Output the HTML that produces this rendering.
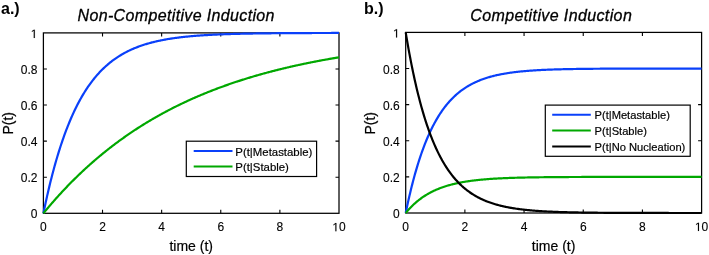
<!DOCTYPE html>
<html><head><meta charset="utf-8"><style>
html,body{margin:0;padding:0;background:#fff;}
body{width:709px;height:255px;overflow:hidden;}
svg{display:block;will-change:transform;}
text{font-family:"Liberation Sans",sans-serif;fill:#000;stroke:#000;stroke-width:0.3px;}
.tk{font-size:12px;stroke-width:0.12px;}
.lab{font-size:14px;stroke-width:0.2px;}
.lg{font-size:11.2px;stroke-width:0.18px;}
.ti{font-size:16px;font-style:italic;}
.pl{font-size:16px;font-weight:bold;stroke-width:0;}
</style></head><body>
<svg width="709" height="255" viewBox="0 0 709 255">
<rect x="43.4" y="32.9" width="295.60" height="180.40" fill="none" stroke="#000" stroke-width="1.25"/>
<path d="M102.52,213.3v-3.5M102.52,32.9v3.5M43.4,177.22h3.5M339.0,177.22h-3.5M161.64,213.3v-3.5M161.64,32.9v3.5M43.4,141.14h3.5M339.0,141.14h-3.5M220.76,213.3v-3.5M220.76,32.9v3.5M43.4,105.06h3.5M339.0,105.06h-3.5M279.88,213.3v-3.5M279.88,32.9v3.5M43.4,68.98h3.5M339.0,68.98h-3.5" stroke="#000" stroke-width="1.1" fill="none"/>
<text x="43.40" y="231.30" class="tk" text-anchor="middle">0</text>
<text x="102.52" y="231.30" class="tk" text-anchor="middle">2</text>
<text x="161.64" y="231.30" class="tk" text-anchor="middle">4</text>
<text x="220.76" y="231.30" class="tk" text-anchor="middle">6</text>
<text x="279.88" y="231.30" class="tk" text-anchor="middle">8</text>
<path transform="translate(332.33,231.30) scale(0.005859,-0.005859)" d="M515,0V1237L197,1010V1180L530,1409H696V0Z" fill="#000" stroke="#000" stroke-width="20.5"/>
<text x="339.00" y="231.30" class="tk">0</text>
<text x="37.40" y="218.30" class="tk" text-anchor="end">0</text>
<text x="37.40" y="182.22" class="tk" text-anchor="end">0.2</text>
<text x="37.40" y="146.14" class="tk" text-anchor="end">0.4</text>
<text x="37.40" y="110.06" class="tk" text-anchor="end">0.6</text>
<text x="37.40" y="73.98" class="tk" text-anchor="end">0.8</text>
<path transform="translate(30.73,37.90) scale(0.005859,-0.005859)" d="M515,0V1237L197,1010V1180L530,1409H696V0Z" fill="#000" stroke="#000" stroke-width="20.5"/>
<text x="191.20" y="250.5" class="lab" text-anchor="middle">time (t)</text>
<text transform="translate(13.00,123.3) rotate(-90)" class="lab" text-anchor="middle">P(t)</text>
<rect x="405.7" y="32.4" width="295.90" height="180.60" fill="none" stroke="#000" stroke-width="1.25"/>
<path d="M464.88,213.0v-3.5M464.88,32.4v3.5M405.7,176.88h3.5M701.6,176.88h-3.5M524.06,213.0v-3.5M524.06,32.4v3.5M405.7,140.76h3.5M701.6,140.76h-3.5M583.24,213.0v-3.5M583.24,32.4v3.5M405.7,104.64h3.5M701.6,104.64h-3.5M642.42,213.0v-3.5M642.42,32.4v3.5M405.7,68.52h3.5M701.6,68.52h-3.5" stroke="#000" stroke-width="1.1" fill="none"/>
<text x="405.70" y="231.00" class="tk" text-anchor="middle">0</text>
<text x="464.88" y="231.00" class="tk" text-anchor="middle">2</text>
<text x="524.06" y="231.00" class="tk" text-anchor="middle">4</text>
<text x="583.24" y="231.00" class="tk" text-anchor="middle">6</text>
<text x="642.42" y="231.00" class="tk" text-anchor="middle">8</text>
<path transform="translate(694.93,231.00) scale(0.005859,-0.005859)" d="M515,0V1237L197,1010V1180L530,1409H696V0Z" fill="#000" stroke="#000" stroke-width="20.5"/>
<text x="701.60" y="231.00" class="tk">0</text>
<text x="399.70" y="218.00" class="tk" text-anchor="end">0</text>
<text x="399.70" y="181.88" class="tk" text-anchor="end">0.2</text>
<text x="399.70" y="145.76" class="tk" text-anchor="end">0.4</text>
<text x="399.70" y="109.64" class="tk" text-anchor="end">0.6</text>
<text x="399.70" y="73.52" class="tk" text-anchor="end">0.8</text>
<path transform="translate(393.03,37.40) scale(0.005859,-0.005859)" d="M515,0V1237L197,1010V1180L530,1409H696V0Z" fill="#000" stroke="#000" stroke-width="20.5"/>
<text x="553.65" y="250.5" class="lab" text-anchor="middle">time (t)</text>
<text transform="translate(375.30,123.3) rotate(-90)" class="lab" text-anchor="middle">P(t)</text>
<path d="M43.40,213.30 L44.14,209.73 L44.88,206.23 L45.62,202.79 L46.36,199.43 L47.09,196.13 L47.83,192.90 L48.57,189.73 L49.31,186.63 L50.05,183.58 L50.79,180.60 L51.53,177.67 L52.27,174.81 L53.01,172.00 L53.75,169.24 L54.48,166.54 L55.22,163.90 L55.96,161.30 L56.70,158.76 L57.44,156.27 L58.18,153.83 L58.92,151.43 L59.66,149.08 L60.40,146.78 L61.14,144.53 L61.88,142.32 L62.61,140.15 L63.35,138.03 L64.09,135.95 L64.83,133.91 L65.57,131.91 L66.31,129.95 L67.05,128.02 L67.79,126.14 L68.53,124.29 L69.27,122.48 L70.00,120.71 L70.74,118.97 L71.48,117.27 L72.22,115.60 L72.96,113.96 L73.70,112.35 L74.44,110.78 L75.18,109.24 L75.92,107.73 L76.66,106.25 L77.39,104.79 L78.13,103.37 L78.87,101.97 L79.61,100.61 L80.35,99.27 L81.09,97.95 L81.83,96.66 L82.57,95.40 L83.31,94.16 L84.05,92.95 L84.78,91.76 L85.52,90.60 L86.26,89.45 L87.00,88.33 L87.74,87.24 L88.48,86.16 L89.22,85.10 L89.96,84.07 L90.70,83.06 L91.44,82.06 L92.17,81.09 L92.91,80.14 L93.65,79.20 L94.39,78.28 L95.13,77.39 L95.87,76.51 L96.61,75.64 L97.35,74.80 L98.09,73.97 L98.82,73.15 L99.56,72.36 L100.30,71.57 L101.04,70.81 L101.78,70.06 L102.52,69.32 L103.26,68.60 L104.00,67.89 L104.74,67.20 L105.48,66.52 L106.22,65.86 L106.95,65.20 L107.69,64.56 L108.43,63.94 L109.17,63.32 L109.91,62.72 L110.65,62.13 L111.39,61.55 L112.13,60.98 L112.87,60.43 L113.61,59.88 L114.34,59.35 L115.08,58.82 L115.82,58.31 L116.56,57.81 L117.30,57.31 L118.04,56.83 L118.78,56.36 L119.52,55.89 L120.26,55.44 L121.00,54.99 L121.73,54.55 L122.47,54.12 L123.21,53.70 L123.95,53.29 L124.69,52.89 L125.43,52.49 L126.17,52.11 L126.91,51.72 L127.65,51.35 L128.38,50.99 L129.12,50.63 L129.86,50.28 L130.60,49.93 L131.34,49.60 L132.08,49.27 L132.82,48.94 L133.56,48.62 L134.30,48.31 L135.04,48.01 L135.78,47.71 L136.51,47.41 L137.25,47.13 L137.99,46.85 L138.73,46.57 L139.47,46.30 L140.21,46.03 L140.95,45.77 L141.69,45.52 L142.43,45.27 L143.17,45.02 L143.90,44.78 L144.64,44.55 L145.38,44.32 L146.12,44.09 L146.86,43.87 L147.60,43.65 L148.34,43.44 L149.08,43.23 L149.82,43.03 L150.56,42.83 L151.29,42.63 L152.03,42.44 L152.77,42.25 L153.51,42.06 L154.25,41.88 L154.99,41.70 L155.73,41.53 L156.47,41.36 L157.21,41.19 L157.94,41.03 L158.68,40.87 L159.42,40.71 L160.16,40.55 L160.90,40.40 L161.64,40.25 L162.38,40.11 L163.12,39.97 L163.86,39.83 L164.60,39.69 L165.34,39.55 L166.07,39.42 L166.81,39.29 L167.55,39.17 L168.29,39.04 L169.03,38.92 L169.77,38.80 L170.51,38.68 L171.25,38.57 L171.99,38.46 L172.72,38.35 L173.46,38.24 L174.20,38.13 L174.94,38.03 L175.68,37.93 L176.42,37.83 L177.16,37.73 L177.90,37.64 L178.64,37.54 L179.38,37.45 L180.12,37.36 L180.85,37.27 L181.59,37.19 L182.33,37.10 L183.07,37.02 L183.81,36.94 L184.55,36.86 L185.29,36.78 L186.03,36.70 L186.77,36.63 L187.51,36.55 L188.24,36.48 L188.98,36.41 L189.72,36.34 L190.46,36.27 L191.20,36.20 L191.94,36.14 L192.68,36.07 L193.42,36.01 L194.16,35.95 L194.90,35.89 L195.63,35.83 L196.37,35.77 L197.11,35.72 L197.85,35.66 L198.59,35.61 L199.33,35.55 L200.07,35.50 L200.81,35.45 L201.55,35.40 L202.29,35.35 L203.02,35.30 L203.76,35.25 L204.50,35.21 L205.24,35.16 L205.98,35.11 L206.72,35.07 L207.46,35.03 L208.20,34.99 L208.94,34.94 L209.68,34.90 L210.41,34.86 L211.15,34.83 L211.89,34.79 L212.63,34.75 L213.37,34.71 L214.11,34.68 L214.85,34.64 L215.59,34.61 L216.33,34.57 L217.07,34.54 L217.80,34.51 L218.54,34.48 L219.28,34.45 L220.02,34.41 L220.76,34.38 L221.50,34.36 L222.24,34.33 L222.98,34.30 L223.72,34.27 L224.46,34.24 L225.19,34.22 L225.93,34.19 L226.67,34.17 L227.41,34.14 L228.15,34.12 L228.89,34.09 L229.63,34.07 L230.37,34.04 L231.11,34.02 L231.84,34.00 L232.58,33.98 L233.32,33.96 L234.06,33.94 L234.80,33.92 L235.54,33.90 L236.28,33.88 L237.02,33.86 L237.76,33.84 L238.50,33.82 L239.24,33.80 L239.97,33.78 L240.71,33.77 L241.45,33.75 L242.19,33.73 L242.93,33.71 L243.67,33.70 L244.41,33.68 L245.15,33.67 L245.89,33.65 L246.63,33.64 L247.36,33.62 L248.10,33.61 L248.84,33.59 L249.58,33.58 L250.32,33.57 L251.06,33.55 L251.80,33.54 L252.54,33.53 L253.28,33.52 L254.02,33.50 L254.75,33.49 L255.49,33.48 L256.23,33.47 L256.97,33.46 L257.71,33.45 L258.45,33.44 L259.19,33.42 L259.93,33.41 L260.67,33.40 L261.41,33.39 L262.14,33.38 L262.88,33.37 L263.62,33.37 L264.36,33.36 L265.10,33.35 L265.84,33.34 L266.58,33.33 L267.32,33.32 L268.06,33.31 L268.80,33.30 L269.53,33.30 L270.27,33.29 L271.01,33.28 L271.75,33.27 L272.49,33.27 L273.23,33.26 L273.97,33.25 L274.71,33.24 L275.45,33.24 L276.19,33.23 L276.92,33.22 L277.66,33.22 L278.40,33.21 L279.14,33.21 L279.88,33.20 L280.62,33.19 L281.36,33.19 L282.10,33.18 L282.84,33.18 L283.57,33.17 L284.31,33.17 L285.05,33.16 L285.79,33.16 L286.53,33.15 L287.27,33.15 L288.01,33.14 L288.75,33.14 L289.49,33.13 L290.23,33.13 L290.96,33.12 L291.70,33.12 L292.44,33.11 L293.18,33.11 L293.92,33.10 L294.66,33.10 L295.40,33.10 L296.14,33.09 L296.88,33.09 L297.62,33.09 L298.36,33.08 L299.09,33.08 L299.83,33.07 L300.57,33.07 L301.31,33.07 L302.05,33.06 L302.79,33.06 L303.53,33.06 L304.27,33.05 L305.01,33.05 L305.75,33.05 L306.48,33.05 L307.22,33.04 L307.96,33.04 L308.70,33.04 L309.44,33.03 L310.18,33.03 L310.92,33.03 L311.66,33.03 L312.40,33.02 L313.13,33.02 L313.87,33.02 L314.61,33.02 L315.35,33.01 L316.09,33.01 L316.83,33.01 L317.57,33.01 L318.31,33.01 L319.05,33.00 L319.79,33.00 L320.52,33.00 L321.26,33.00 L322.00,33.00 L322.74,32.99 L323.48,32.99 L324.22,32.99 L324.96,32.99 L325.70,32.99 L326.44,32.99 L327.18,32.98 L327.91,32.98 L328.65,32.98 L329.39,32.98 L330.13,32.98 L330.87,32.98 L331.61,32.97 L332.35,32.97 L333.09,32.97 L333.83,32.97 L334.57,32.97 L335.31,32.97 L336.04,32.97 L336.78,32.96 L337.52,32.96 L338.26,32.96 L339.00,32.96" stroke="#0a40fa" stroke-width="2.2" fill="none"/>
<path d="M43.40,213.30 L44.14,212.40 L44.88,211.50 L45.62,210.61 L46.36,209.73 L47.09,208.85 L47.83,207.97 L48.57,207.10 L49.31,206.23 L50.05,205.36 L50.79,204.50 L51.53,203.65 L52.27,202.79 L53.01,201.95 L53.75,201.10 L54.48,200.26 L55.22,199.43 L55.96,198.60 L56.70,197.77 L57.44,196.95 L58.18,196.13 L58.92,195.32 L59.66,194.51 L60.40,193.70 L61.14,192.90 L61.88,192.10 L62.61,191.31 L63.35,190.52 L64.09,189.73 L64.83,188.95 L65.57,188.17 L66.31,187.40 L67.05,186.63 L67.79,185.86 L68.53,185.10 L69.27,184.34 L70.00,183.58 L70.74,182.83 L71.48,182.08 L72.22,181.34 L72.96,180.60 L73.70,179.86 L74.44,179.13 L75.18,178.40 L75.92,177.67 L76.66,176.95 L77.39,176.23 L78.13,175.52 L78.87,174.81 L79.61,174.10 L80.35,173.40 L81.09,172.69 L81.83,172.00 L82.57,171.30 L83.31,170.61 L84.05,169.93 L84.78,169.24 L85.52,168.56 L86.26,167.89 L87.00,167.21 L87.74,166.54 L88.48,165.88 L89.22,165.21 L89.96,164.55 L90.70,163.90 L91.44,163.24 L92.17,162.59 L92.91,161.95 L93.65,161.30 L94.39,160.66 L95.13,160.03 L95.87,159.39 L96.61,158.76 L97.35,158.13 L98.09,157.51 L98.82,156.89 L99.56,156.27 L100.30,155.65 L101.04,155.04 L101.78,154.43 L102.52,153.83 L103.26,153.22 L104.00,152.62 L104.74,152.03 L105.48,151.43 L106.22,150.84 L106.95,150.25 L107.69,149.67 L108.43,149.08 L109.17,148.50 L109.91,147.93 L110.65,147.35 L111.39,146.78 L112.13,146.22 L112.87,145.65 L113.61,145.09 L114.34,144.53 L115.08,143.97 L115.82,143.42 L116.56,142.87 L117.30,142.32 L118.04,141.77 L118.78,141.23 L119.52,140.69 L120.26,140.15 L121.00,139.62 L121.73,139.08 L122.47,138.55 L123.21,138.03 L123.95,137.50 L124.69,136.98 L125.43,136.46 L126.17,135.95 L126.91,135.43 L127.65,134.92 L128.38,134.41 L129.12,133.91 L129.86,133.40 L130.60,132.90 L131.34,132.40 L132.08,131.91 L132.82,131.41 L133.56,130.92 L134.30,130.43 L135.04,129.95 L135.78,129.46 L136.51,128.98 L137.25,128.50 L137.99,128.02 L138.73,127.55 L139.47,127.08 L140.21,126.61 L140.95,126.14 L141.69,125.67 L142.43,125.21 L143.17,124.75 L143.90,124.29 L144.64,123.84 L145.38,123.38 L146.12,122.93 L146.86,122.48 L147.60,122.04 L148.34,121.59 L149.08,121.15 L149.82,120.71 L150.56,120.27 L151.29,119.84 L152.03,119.40 L152.77,118.97 L153.51,118.54 L154.25,118.11 L154.99,117.69 L155.73,117.27 L156.47,116.85 L157.21,116.43 L157.94,116.01 L158.68,115.60 L159.42,115.18 L160.16,114.77 L160.90,114.37 L161.64,113.96 L162.38,113.55 L163.12,113.15 L163.86,112.75 L164.60,112.35 L165.34,111.96 L166.07,111.56 L166.81,111.17 L167.55,110.78 L168.29,110.39 L169.03,110.01 L169.77,109.62 L170.51,109.24 L171.25,108.86 L171.99,108.48 L172.72,108.10 L173.46,107.73 L174.20,107.35 L174.94,106.98 L175.68,106.61 L176.42,106.25 L177.16,105.88 L177.90,105.52 L178.64,105.15 L179.38,104.79 L180.12,104.43 L180.85,104.08 L181.59,103.72 L182.33,103.37 L183.07,103.02 L183.81,102.67 L184.55,102.32 L185.29,101.97 L186.03,101.63 L186.77,101.29 L187.51,100.95 L188.24,100.61 L188.98,100.27 L189.72,99.93 L190.46,99.60 L191.20,99.27 L191.94,98.93 L192.68,98.61 L193.42,98.28 L194.16,97.95 L194.90,97.63 L195.63,97.30 L196.37,96.98 L197.11,96.66 L197.85,96.35 L198.59,96.03 L199.33,95.71 L200.07,95.40 L200.81,95.09 L201.55,94.78 L202.29,94.47 L203.02,94.16 L203.76,93.86 L204.50,93.55 L205.24,93.25 L205.98,92.95 L206.72,92.65 L207.46,92.35 L208.20,92.06 L208.94,91.76 L209.68,91.47 L210.41,91.18 L211.15,90.88 L211.89,90.60 L212.63,90.31 L213.37,90.02 L214.11,89.74 L214.85,89.45 L215.59,89.17 L216.33,88.89 L217.07,88.61 L217.80,88.33 L218.54,88.06 L219.28,87.78 L220.02,87.51 L220.76,87.24 L221.50,86.96 L222.24,86.69 L222.98,86.43 L223.72,86.16 L224.46,85.89 L225.19,85.63 L225.93,85.37 L226.67,85.10 L227.41,84.84 L228.15,84.59 L228.89,84.33 L229.63,84.07 L230.37,83.82 L231.11,83.56 L231.84,83.31 L232.58,83.06 L233.32,82.81 L234.06,82.56 L234.80,82.31 L235.54,82.06 L236.28,81.82 L237.02,81.58 L237.76,81.33 L238.50,81.09 L239.24,80.85 L239.97,80.61 L240.71,80.37 L241.45,80.14 L242.19,79.90 L242.93,79.67 L243.67,79.43 L244.41,79.20 L245.15,78.97 L245.89,78.74 L246.63,78.51 L247.36,78.28 L248.10,78.06 L248.84,77.83 L249.58,77.61 L250.32,77.39 L251.06,77.16 L251.80,76.94 L252.54,76.72 L253.28,76.51 L254.02,76.29 L254.75,76.07 L255.49,75.86 L256.23,75.64 L256.97,75.43 L257.71,75.22 L258.45,75.01 L259.19,74.80 L259.93,74.59 L260.67,74.38 L261.41,74.17 L262.14,73.97 L262.88,73.76 L263.62,73.56 L264.36,73.35 L265.10,73.15 L265.84,72.95 L266.58,72.75 L267.32,72.55 L268.06,72.36 L268.80,72.16 L269.53,71.96 L270.27,71.77 L271.01,71.57 L271.75,71.38 L272.49,71.19 L273.23,71.00 L273.97,70.81 L274.71,70.62 L275.45,70.43 L276.19,70.24 L276.92,70.06 L277.66,69.87 L278.40,69.69 L279.14,69.50 L279.88,69.32 L280.62,69.14 L281.36,68.96 L282.10,68.78 L282.84,68.60 L283.57,68.42 L284.31,68.25 L285.05,68.07 L285.79,67.89 L286.53,67.72 L287.27,67.55 L288.01,67.37 L288.75,67.20 L289.49,67.03 L290.23,66.86 L290.96,66.69 L291.70,66.52 L292.44,66.35 L293.18,66.19 L293.92,66.02 L294.66,65.86 L295.40,65.69 L296.14,65.53 L296.88,65.37 L297.62,65.20 L298.36,65.04 L299.09,64.88 L299.83,64.72 L300.57,64.56 L301.31,64.41 L302.05,64.25 L302.79,64.09 L303.53,63.94 L304.27,63.78 L305.01,63.63 L305.75,63.47 L306.48,63.32 L307.22,63.17 L307.96,63.02 L308.70,62.87 L309.44,62.72 L310.18,62.57 L310.92,62.42 L311.66,62.28 L312.40,62.13 L313.13,61.98 L313.87,61.84 L314.61,61.69 L315.35,61.55 L316.09,61.41 L316.83,61.27 L317.57,61.12 L318.31,60.98 L319.05,60.84 L319.79,60.70 L320.52,60.57 L321.26,60.43 L322.00,60.29 L322.74,60.15 L323.48,60.02 L324.22,59.88 L324.96,59.75 L325.70,59.61 L326.44,59.48 L327.18,59.35 L327.91,59.22 L328.65,59.08 L329.39,58.95 L330.13,58.82 L330.87,58.69 L331.61,58.57 L332.35,58.44 L333.09,58.31 L333.83,58.18 L334.57,58.06 L335.31,57.93 L336.04,57.81 L336.78,57.68 L337.52,57.56 L338.26,57.44 L339.00,57.31" stroke="#00a800" stroke-width="2.2" fill="none"/>
<path d="M405.70,213.00 L406.44,209.43 L407.18,205.95 L407.92,202.56 L408.66,199.25 L409.40,196.02 L410.14,192.88 L410.88,189.80 L411.62,186.81 L412.36,183.89 L413.10,181.04 L413.84,178.26 L414.58,175.55 L415.32,172.91 L416.06,170.33 L416.80,167.82 L417.54,165.37 L418.28,162.98 L419.02,160.64 L419.76,158.37 L420.50,156.15 L421.23,153.99 L421.97,151.88 L422.71,149.82 L423.45,147.81 L424.19,145.85 L424.93,143.95 L425.67,142.08 L426.41,140.27 L427.15,138.50 L427.89,136.77 L428.63,135.08 L429.37,133.44 L430.11,131.84 L430.85,130.27 L431.59,128.75 L432.33,127.26 L433.07,125.81 L433.81,124.40 L434.55,123.02 L435.29,121.67 L436.03,120.36 L436.77,119.08 L437.51,117.83 L438.25,116.61 L438.99,115.43 L439.73,114.27 L440.47,113.14 L441.21,112.04 L441.95,110.96 L442.69,109.91 L443.43,108.89 L444.17,107.90 L444.91,106.92 L445.65,105.98 L446.39,105.05 L447.13,104.15 L447.87,103.27 L448.61,102.41 L449.35,101.57 L450.08,100.76 L450.82,99.96 L451.56,99.19 L452.30,98.43 L453.04,97.69 L453.78,96.97 L454.52,96.27 L455.26,95.58 L456.00,94.91 L456.74,94.26 L457.48,93.63 L458.22,93.01 L458.96,92.40 L459.70,91.81 L460.44,91.24 L461.18,90.68 L461.92,90.13 L462.66,89.60 L463.40,89.08 L464.14,88.57 L464.88,88.07 L465.62,87.59 L466.36,87.12 L467.10,86.66 L467.84,86.21 L468.58,85.78 L469.32,85.35 L470.06,84.93 L470.80,84.53 L471.54,84.13 L472.28,83.75 L473.02,83.37 L473.76,83.01 L474.50,82.65 L475.24,82.30 L475.98,81.96 L476.72,81.63 L477.46,81.30 L478.20,80.99 L478.94,80.68 L479.68,80.38 L480.41,80.09 L481.15,79.80 L481.89,79.52 L482.63,79.25 L483.37,78.99 L484.11,78.73 L484.85,78.48 L485.59,78.23 L486.33,77.99 L487.07,77.76 L487.81,77.53 L488.55,77.31 L489.29,77.09 L490.03,76.88 L490.77,76.67 L491.51,76.47 L492.25,76.27 L492.99,76.08 L493.73,75.90 L494.47,75.71 L495.21,75.54 L495.95,75.36 L496.69,75.19 L497.43,75.03 L498.17,74.87 L498.91,74.71 L499.65,74.56 L500.39,74.41 L501.13,74.26 L501.87,74.12 L502.61,73.98 L503.35,73.85 L504.09,73.72 L504.83,73.59 L505.57,73.46 L506.31,73.34 L507.05,73.22 L507.79,73.11 L508.53,72.99 L509.26,72.88 L510.00,72.78 L510.74,72.67 L511.48,72.57 L512.22,72.47 L512.96,72.37 L513.70,72.28 L514.44,72.18 L515.18,72.09 L515.92,72.00 L516.66,71.92 L517.40,71.83 L518.14,71.75 L518.88,71.67 L519.62,71.59 L520.36,71.52 L521.10,71.44 L521.84,71.37 L522.58,71.30 L523.32,71.23 L524.06,71.17 L524.80,71.10 L525.54,71.04 L526.28,70.98 L527.02,70.91 L527.76,70.86 L528.50,70.80 L529.24,70.74 L529.98,70.69 L530.72,70.63 L531.46,70.58 L532.20,70.53 L532.94,70.48 L533.68,70.43 L534.42,70.38 L535.16,70.34 L535.90,70.29 L536.64,70.25 L537.38,70.21 L538.12,70.17 L538.86,70.13 L539.59,70.09 L540.33,70.05 L541.07,70.01 L541.81,69.97 L542.55,69.94 L543.29,69.90 L544.03,69.87 L544.77,69.83 L545.51,69.80 L546.25,69.77 L546.99,69.74 L547.73,69.71 L548.47,69.68 L549.21,69.65 L549.95,69.62 L550.69,69.60 L551.43,69.57 L552.17,69.54 L552.91,69.52 L553.65,69.49 L554.39,69.47 L555.13,69.45 L555.87,69.42 L556.61,69.40 L557.35,69.38 L558.09,69.36 L558.83,69.34 L559.57,69.32 L560.31,69.30 L561.05,69.28 L561.79,69.26 L562.53,69.24 L563.27,69.22 L564.01,69.21 L564.75,69.19 L565.49,69.17 L566.23,69.16 L566.97,69.14 L567.71,69.13 L568.45,69.11 L569.18,69.10 L569.92,69.08 L570.66,69.07 L571.40,69.05 L572.14,69.04 L572.88,69.03 L573.62,69.02 L574.36,69.00 L575.10,68.99 L575.84,68.98 L576.58,68.97 L577.32,68.96 L578.06,68.95 L578.80,68.94 L579.54,68.93 L580.28,68.92 L581.02,68.91 L581.76,68.90 L582.50,68.89 L583.24,68.88 L583.98,68.87 L584.72,68.86 L585.46,68.85 L586.20,68.84 L586.94,68.84 L587.68,68.83 L588.42,68.82 L589.16,68.81 L589.90,68.81 L590.64,68.80 L591.38,68.79 L592.12,68.79 L592.86,68.78 L593.60,68.77 L594.34,68.77 L595.08,68.76 L595.82,68.75 L596.56,68.75 L597.30,68.74 L598.03,68.74 L598.77,68.73 L599.51,68.73 L600.25,68.72 L600.99,68.72 L601.73,68.71 L602.47,68.71 L603.21,68.70 L603.95,68.70 L604.69,68.69 L605.43,68.69 L606.17,68.68 L606.91,68.68 L607.65,68.68 L608.39,68.67 L609.13,68.67 L609.87,68.67 L610.61,68.66 L611.35,68.66 L612.09,68.66 L612.83,68.65 L613.57,68.65 L614.31,68.65 L615.05,68.64 L615.79,68.64 L616.53,68.64 L617.27,68.63 L618.01,68.63 L618.75,68.63 L619.49,68.63 L620.23,68.62 L620.97,68.62 L621.71,68.62 L622.45,68.62 L623.19,68.61 L623.93,68.61 L624.67,68.61 L625.41,68.61 L626.15,68.60 L626.89,68.60 L627.62,68.60 L628.36,68.60 L629.10,68.60 L629.84,68.59 L630.58,68.59 L631.32,68.59 L632.06,68.59 L632.80,68.59 L633.54,68.59 L634.28,68.58 L635.02,68.58 L635.76,68.58 L636.50,68.58 L637.24,68.58 L637.98,68.58 L638.72,68.57 L639.46,68.57 L640.20,68.57 L640.94,68.57 L641.68,68.57 L642.42,68.57 L643.16,68.57 L643.90,68.57 L644.64,68.56 L645.38,68.56 L646.12,68.56 L646.86,68.56 L647.60,68.56 L648.34,68.56 L649.08,68.56 L649.82,68.56 L650.56,68.56 L651.30,68.56 L652.04,68.56 L652.78,68.55 L653.52,68.55 L654.26,68.55 L655.00,68.55 L655.74,68.55 L656.48,68.55 L657.22,68.55 L657.95,68.55 L658.69,68.55 L659.43,68.55 L660.17,68.55 L660.91,68.55 L661.65,68.55 L662.39,68.54 L663.13,68.54 L663.87,68.54 L664.61,68.54 L665.35,68.54 L666.09,68.54 L666.83,68.54 L667.57,68.54 L668.31,68.54 L669.05,68.54 L669.79,68.54 L670.53,68.54 L671.27,68.54 L672.01,68.54 L672.75,68.54 L673.49,68.54 L674.23,68.54 L674.97,68.54 L675.71,68.54 L676.45,68.54 L677.19,68.53 L677.93,68.53 L678.67,68.53 L679.41,68.53 L680.15,68.53 L680.89,68.53 L681.63,68.53 L682.37,68.53 L683.11,68.53 L683.85,68.53 L684.59,68.53 L685.33,68.53 L686.07,68.53 L686.81,68.53 L687.54,68.53 L688.28,68.53 L689.02,68.53 L689.76,68.53 L690.50,68.53 L691.24,68.53 L691.98,68.53 L692.72,68.53 L693.46,68.53 L694.20,68.53 L694.94,68.53 L695.68,68.53 L696.42,68.53 L697.16,68.53 L697.90,68.53 L698.64,68.53 L699.38,68.53 L700.12,68.53 L700.86,68.53 L701.60,68.53" stroke="#0a40fa" stroke-width="2.2" fill="none"/>
<path d="M405.70,213.00 L406.44,212.11 L407.18,211.24 L407.92,210.39 L408.66,209.56 L409.40,208.76 L410.14,207.97 L410.88,207.20 L411.62,206.45 L412.36,205.72 L413.10,205.01 L413.84,204.32 L414.58,203.64 L415.32,202.98 L416.06,202.33 L416.80,201.70 L417.54,201.09 L418.28,200.49 L419.02,199.91 L419.76,199.34 L420.50,198.79 L421.23,198.25 L421.97,197.72 L422.71,197.20 L423.45,196.70 L424.19,196.21 L424.93,195.74 L425.67,195.27 L426.41,194.82 L427.15,194.37 L427.89,193.94 L428.63,193.52 L429.37,193.11 L430.11,192.71 L430.85,192.32 L431.59,191.94 L432.33,191.57 L433.07,191.20 L433.81,190.85 L434.55,190.50 L435.29,190.17 L436.03,189.84 L436.77,189.52 L437.51,189.21 L438.25,188.90 L438.99,188.61 L439.73,188.32 L440.47,188.03 L441.21,187.76 L441.95,187.49 L442.69,187.23 L443.43,186.97 L444.17,186.72 L444.91,186.48 L445.65,186.24 L446.39,186.01 L447.13,185.79 L447.87,185.57 L448.61,185.35 L449.35,185.14 L450.08,184.94 L450.82,184.74 L451.56,184.55 L452.30,184.36 L453.04,184.17 L453.78,183.99 L454.52,183.82 L455.26,183.65 L456.00,183.48 L456.74,183.32 L457.48,183.16 L458.22,183.00 L458.96,182.85 L459.70,182.70 L460.44,182.56 L461.18,182.42 L461.92,182.28 L462.66,182.15 L463.40,182.02 L464.14,181.89 L464.88,181.77 L465.62,181.65 L466.36,181.53 L467.10,181.42 L467.84,181.30 L468.58,181.19 L469.32,181.09 L470.06,180.98 L470.80,180.88 L471.54,180.78 L472.28,180.69 L473.02,180.59 L473.76,180.50 L474.50,180.41 L475.24,180.32 L475.98,180.24 L476.72,180.16 L477.46,180.08 L478.20,180.00 L478.94,179.92 L479.68,179.84 L480.41,179.77 L481.15,179.70 L481.89,179.63 L482.63,179.56 L483.37,179.50 L484.11,179.43 L484.85,179.37 L485.59,179.31 L486.33,179.25 L487.07,179.19 L487.81,179.13 L488.55,179.08 L489.29,179.02 L490.03,178.97 L490.77,178.92 L491.51,178.87 L492.25,178.82 L492.99,178.77 L493.73,178.72 L494.47,178.68 L495.21,178.63 L495.95,178.59 L496.69,178.55 L497.43,178.51 L498.17,178.47 L498.91,178.43 L499.65,178.39 L500.39,178.35 L501.13,178.32 L501.87,178.28 L502.61,178.25 L503.35,178.21 L504.09,178.18 L504.83,178.15 L505.57,178.12 L506.31,178.09 L507.05,178.06 L507.79,178.03 L508.53,178.00 L509.26,177.97 L510.00,177.94 L510.74,177.92 L511.48,177.89 L512.22,177.87 L512.96,177.84 L513.70,177.82 L514.44,177.80 L515.18,177.77 L515.92,177.75 L516.66,177.73 L517.40,177.71 L518.14,177.69 L518.88,177.67 L519.62,177.65 L520.36,177.63 L521.10,177.61 L521.84,177.59 L522.58,177.58 L523.32,177.56 L524.06,177.54 L524.80,177.53 L525.54,177.51 L526.28,177.49 L527.02,177.48 L527.76,177.46 L528.50,177.45 L529.24,177.44 L529.98,177.42 L530.72,177.41 L531.46,177.40 L532.20,177.38 L532.94,177.37 L533.68,177.36 L534.42,177.35 L535.16,177.33 L535.90,177.32 L536.64,177.31 L537.38,177.30 L538.12,177.29 L538.86,177.28 L539.59,177.27 L540.33,177.26 L541.07,177.25 L541.81,177.24 L542.55,177.23 L543.29,177.23 L544.03,177.22 L544.77,177.21 L545.51,177.20 L546.25,177.19 L546.99,177.18 L547.73,177.18 L548.47,177.17 L549.21,177.16 L549.95,177.16 L550.69,177.15 L551.43,177.14 L552.17,177.14 L552.91,177.13 L553.65,177.12 L554.39,177.12 L555.13,177.11 L555.87,177.11 L556.61,177.10 L557.35,177.09 L558.09,177.09 L558.83,177.08 L559.57,177.08 L560.31,177.07 L561.05,177.07 L561.79,177.06 L562.53,177.06 L563.27,177.06 L564.01,177.05 L564.75,177.05 L565.49,177.04 L566.23,177.04 L566.97,177.04 L567.71,177.03 L568.45,177.03 L569.18,177.02 L569.92,177.02 L570.66,177.02 L571.40,177.01 L572.14,177.01 L572.88,177.01 L573.62,177.00 L574.36,177.00 L575.10,177.00 L575.84,176.99 L576.58,176.99 L577.32,176.99 L578.06,176.99 L578.80,176.98 L579.54,176.98 L580.28,176.98 L581.02,176.98 L581.76,176.97 L582.50,176.97 L583.24,176.97 L583.98,176.97 L584.72,176.97 L585.46,176.96 L586.20,176.96 L586.94,176.96 L587.68,176.96 L588.42,176.96 L589.16,176.95 L589.90,176.95 L590.64,176.95 L591.38,176.95 L592.12,176.95 L592.86,176.94 L593.60,176.94 L594.34,176.94 L595.08,176.94 L595.82,176.94 L596.56,176.94 L597.30,176.94 L598.03,176.93 L598.77,176.93 L599.51,176.93 L600.25,176.93 L600.99,176.93 L601.73,176.93 L602.47,176.93 L603.21,176.93 L603.95,176.92 L604.69,176.92 L605.43,176.92 L606.17,176.92 L606.91,176.92 L607.65,176.92 L608.39,176.92 L609.13,176.92 L609.87,176.92 L610.61,176.92 L611.35,176.91 L612.09,176.91 L612.83,176.91 L613.57,176.91 L614.31,176.91 L615.05,176.91 L615.79,176.91 L616.53,176.91 L617.27,176.91 L618.01,176.91 L618.75,176.91 L619.49,176.91 L620.23,176.91 L620.97,176.91 L621.71,176.90 L622.45,176.90 L623.19,176.90 L623.93,176.90 L624.67,176.90 L625.41,176.90 L626.15,176.90 L626.89,176.90 L627.62,176.90 L628.36,176.90 L629.10,176.90 L629.84,176.90 L630.58,176.90 L631.32,176.90 L632.06,176.90 L632.80,176.90 L633.54,176.90 L634.28,176.90 L635.02,176.90 L635.76,176.90 L636.50,176.89 L637.24,176.89 L637.98,176.89 L638.72,176.89 L639.46,176.89 L640.20,176.89 L640.94,176.89 L641.68,176.89 L642.42,176.89 L643.16,176.89 L643.90,176.89 L644.64,176.89 L645.38,176.89 L646.12,176.89 L646.86,176.89 L647.60,176.89 L648.34,176.89 L649.08,176.89 L649.82,176.89 L650.56,176.89 L651.30,176.89 L652.04,176.89 L652.78,176.89 L653.52,176.89 L654.26,176.89 L655.00,176.89 L655.74,176.89 L656.48,176.89 L657.22,176.89 L657.95,176.89 L658.69,176.89 L659.43,176.89 L660.17,176.89 L660.91,176.89 L661.65,176.89 L662.39,176.89 L663.13,176.89 L663.87,176.89 L664.61,176.89 L665.35,176.89 L666.09,176.89 L666.83,176.89 L667.57,176.89 L668.31,176.89 L669.05,176.88 L669.79,176.88 L670.53,176.88 L671.27,176.88 L672.01,176.88 L672.75,176.88 L673.49,176.88 L674.23,176.88 L674.97,176.88 L675.71,176.88 L676.45,176.88 L677.19,176.88 L677.93,176.88 L678.67,176.88 L679.41,176.88 L680.15,176.88 L680.89,176.88 L681.63,176.88 L682.37,176.88 L683.11,176.88 L683.85,176.88 L684.59,176.88 L685.33,176.88 L686.07,176.88 L686.81,176.88 L687.54,176.88 L688.28,176.88 L689.02,176.88 L689.76,176.88 L690.50,176.88 L691.24,176.88 L691.98,176.88 L692.72,176.88 L693.46,176.88 L694.20,176.88 L694.94,176.88 L695.68,176.88 L696.42,176.88 L697.16,176.88 L697.90,176.88 L698.64,176.88 L699.38,176.88 L700.12,176.88 L700.86,176.88 L701.60,176.88" stroke="#00a800" stroke-width="2.2" fill="none"/>
<path d="M405.70,32.40 L406.44,36.86 L407.18,41.21 L407.92,45.45 L408.66,49.59 L409.40,53.62 L410.14,57.56 L410.88,61.39 L411.62,65.14 L412.36,68.79 L413.10,72.35 L413.84,75.82 L414.58,79.21 L415.32,82.51 L416.06,85.73 L416.80,88.88 L417.54,91.94 L418.28,94.93 L419.02,97.84 L419.76,100.69 L420.50,103.46 L421.23,106.17 L421.97,108.80 L422.71,111.38 L423.45,113.88 L424.19,116.33 L424.93,118.72 L425.67,121.05 L426.41,123.32 L427.15,125.53 L427.89,127.69 L428.63,129.80 L429.37,131.85 L430.11,133.85 L430.85,135.81 L431.59,137.71 L432.33,139.57 L433.07,141.39 L433.81,143.15 L434.55,144.88 L435.29,146.56 L436.03,148.20 L436.77,149.80 L437.51,151.36 L438.25,152.88 L438.99,154.37 L439.73,155.82 L440.47,157.23 L441.21,158.60 L441.95,159.95 L442.69,161.26 L443.43,162.53 L444.17,163.78 L444.91,165.00 L445.65,166.18 L446.39,167.34 L447.13,168.46 L447.87,169.56 L448.61,170.64 L449.35,171.68 L450.08,172.70 L450.82,173.70 L451.56,174.67 L452.30,175.61 L453.04,176.54 L453.78,177.44 L454.52,178.32 L455.26,179.17 L456.00,180.01 L456.74,180.82 L457.48,181.62 L458.22,182.39 L458.96,183.15 L459.70,183.88 L460.44,184.60 L461.18,185.30 L461.92,185.99 L462.66,186.65 L463.40,187.31 L464.14,187.94 L464.88,188.56 L465.62,189.16 L466.36,189.75 L467.10,190.32 L467.84,190.88 L468.58,191.43 L469.32,191.96 L470.06,192.48 L470.80,192.99 L471.54,193.48 L472.28,193.96 L473.02,194.43 L473.76,194.89 L474.50,195.34 L475.24,195.78 L475.98,196.20 L476.72,196.62 L477.46,197.02 L478.20,197.42 L478.94,197.80 L479.68,198.18 L480.41,198.54 L481.15,198.90 L481.89,199.25 L482.63,199.59 L483.37,199.92 L484.11,200.24 L484.85,200.56 L485.59,200.86 L486.33,201.16 L487.07,201.45 L487.81,201.74 L488.55,202.02 L489.29,202.29 L490.03,202.55 L490.77,202.81 L491.51,203.06 L492.25,203.31 L492.99,203.55 L493.73,203.78 L494.47,204.01 L495.21,204.23 L495.95,204.45 L496.69,204.66 L497.43,204.86 L498.17,205.06 L498.91,205.26 L499.65,205.45 L500.39,205.64 L501.13,205.82 L501.87,206.00 L502.61,206.17 L503.35,206.34 L504.09,206.50 L504.83,206.66 L505.57,206.82 L506.31,206.97 L507.05,207.12 L507.79,207.27 L508.53,207.41 L509.26,207.55 L510.00,207.68 L510.74,207.81 L511.48,207.94 L512.22,208.07 L512.96,208.19 L513.70,208.31 L514.44,208.42 L515.18,208.53 L515.92,208.65 L516.66,208.75 L517.40,208.86 L518.14,208.96 L518.88,209.06 L519.62,209.16 L520.36,209.25 L521.10,209.34 L521.84,209.43 L522.58,209.52 L523.32,209.61 L524.06,209.69 L524.80,209.77 L525.54,209.85 L526.28,209.93 L527.02,210.01 L527.76,210.08 L528.50,210.15 L529.24,210.22 L529.98,210.29 L530.72,210.36 L531.46,210.42 L532.20,210.49 L532.94,210.55 L533.68,210.61 L534.42,210.67 L535.16,210.73 L535.90,210.78 L536.64,210.84 L537.38,210.89 L538.12,210.94 L538.86,210.99 L539.59,211.04 L540.33,211.09 L541.07,211.14 L541.81,211.18 L542.55,211.23 L543.29,211.27 L544.03,211.32 L544.77,211.36 L545.51,211.40 L546.25,211.44 L546.99,211.48 L547.73,211.51 L548.47,211.55 L549.21,211.59 L549.95,211.62 L550.69,211.66 L551.43,211.69 L552.17,211.72 L552.91,211.75 L553.65,211.78 L554.39,211.81 L555.13,211.84 L555.87,211.87 L556.61,211.90 L557.35,211.93 L558.09,211.95 L558.83,211.98 L559.57,212.00 L560.31,212.03 L561.05,212.05 L561.79,212.08 L562.53,212.10 L563.27,212.12 L564.01,212.14 L564.75,212.16 L565.49,212.18 L566.23,212.20 L566.97,212.22 L567.71,212.24 L568.45,212.26 L569.18,212.28 L569.92,212.30 L570.66,212.32 L571.40,212.33 L572.14,212.35 L572.88,212.36 L573.62,212.38 L574.36,212.40 L575.10,212.41 L575.84,212.43 L576.58,212.44 L577.32,212.45 L578.06,212.47 L578.80,212.48 L579.54,212.49 L580.28,212.51 L581.02,212.52 L581.76,212.53 L582.50,212.54 L583.24,212.55 L583.98,212.56 L584.72,212.57 L585.46,212.58 L586.20,212.59 L586.94,212.60 L587.68,212.61 L588.42,212.62 L589.16,212.63 L589.90,212.64 L590.64,212.65 L591.38,212.66 L592.12,212.67 L592.86,212.68 L593.60,212.68 L594.34,212.69 L595.08,212.70 L595.82,212.71 L596.56,212.71 L597.30,212.72 L598.03,212.73 L598.77,212.74 L599.51,212.74 L600.25,212.75 L600.99,212.75 L601.73,212.76 L602.47,212.77 L603.21,212.77 L603.95,212.78 L604.69,212.78 L605.43,212.79 L606.17,212.79 L606.91,212.80 L607.65,212.80 L608.39,212.81 L609.13,212.81 L609.87,212.82 L610.61,212.82 L611.35,212.83 L612.09,212.83 L612.83,212.84 L613.57,212.84 L614.31,212.84 L615.05,212.85 L615.79,212.85 L616.53,212.85 L617.27,212.86 L618.01,212.86 L618.75,212.87 L619.49,212.87 L620.23,212.87 L620.97,212.87 L621.71,212.88 L622.45,212.88 L623.19,212.88 L623.93,212.89 L624.67,212.89 L625.41,212.89 L626.15,212.89 L626.89,212.90 L627.62,212.90 L628.36,212.90 L629.10,212.90 L629.84,212.91 L630.58,212.91 L631.32,212.91 L632.06,212.91 L632.80,212.92 L633.54,212.92 L634.28,212.92 L635.02,212.92 L635.76,212.92 L636.50,212.93 L637.24,212.93 L637.98,212.93 L638.72,212.93 L639.46,212.93 L640.20,212.93 L640.94,212.94 L641.68,212.94 L642.42,212.94 L643.16,212.94 L643.90,212.94 L644.64,212.94 L645.38,212.95 L646.12,212.95 L646.86,212.95 L647.60,212.95 L648.34,212.95 L649.08,212.95 L649.82,212.95 L650.56,212.95 L651.30,212.96 L652.04,212.96 L652.78,212.96 L653.52,212.96 L654.26,212.96 L655.00,212.96 L655.74,212.96 L656.48,212.96 L657.22,212.96 L657.95,212.96 L658.69,212.97 L659.43,212.97 L660.17,212.97 L660.91,212.97 L661.65,212.97 L662.39,212.97 L663.13,212.97 L663.87,212.97 L664.61,212.97 L665.35,212.97 L666.09,212.97 L666.83,212.97 L667.57,212.97 L668.31,212.97 L669.05,212.98 L669.79,212.98 L670.53,212.98 L671.27,212.98 L672.01,212.98 L672.75,212.98 L673.49,212.98 L674.23,212.98 L674.97,212.98 L675.71,212.98 L676.45,212.98 L677.19,212.98 L677.93,212.98 L678.67,212.98 L679.41,212.98 L680.15,212.98 L680.89,212.98 L681.63,212.98 L682.37,212.98 L683.11,212.98 L683.85,212.99 L684.59,212.99 L685.33,212.99 L686.07,212.99 L686.81,212.99 L687.54,212.99 L688.28,212.99 L689.02,212.99 L689.76,212.99 L690.50,212.99 L691.24,212.99 L691.98,212.99 L692.72,212.99 L693.46,212.99 L694.20,212.99 L694.94,212.99 L695.68,212.99 L696.42,212.99 L697.16,212.99 L697.90,212.99 L698.64,212.99 L699.38,212.99 L700.12,212.99 L700.86,212.99 L701.60,212.99" stroke="#000" stroke-width="2.2" fill="none"/>
<rect x="186.3" y="141.2" width="130.30" height="35.30" fill="#fff" stroke="#000" stroke-width="1.2"/>
<path d="M193.7,150.9H232.5" stroke="#0a40fa" stroke-width="2"/>
<text x="235.3" y="155.70" class="lg" style="font-size:11.4px">P(t|Metastable)</text>
<path d="M193.7,166.6H232.5" stroke="#00a800" stroke-width="2"/>
<text x="235.3" y="171.40" class="lg" style="font-size:11.4px">P(t|Stable)</text>
<rect x="545.3" y="105.1" width="144.90" height="51.20" fill="#fff" stroke="#000" stroke-width="1.2"/>
<path d="M552.2,114.7H590.8" stroke="#0a40fa" stroke-width="2"/>
<text x="594.5" y="119.20" class="lg" style="font-size:11.15px">P(t|Metastable)</text>
<path d="M552.2,130.6H590.8" stroke="#00a800" stroke-width="2"/>
<text x="594.5" y="135.10" class="lg" style="font-size:11.15px">P(t|Stable)</text>
<path d="M552.2,146.6H590.8" stroke="#000" stroke-width="2"/>
<text x="594.5" y="151.10" class="lg" style="font-size:11.15px">P(t|No Nucleation)</text>
<text x="77.5" y="20.6" class="ti" textLength="197" lengthAdjust="spacing">Non-Competitive Induction</text>
<text x="470.3" y="20.6" class="ti" textLength="161.5" lengthAdjust="spacing">Competitive Induction</text>
<text x="1" y="13.7" class="pl">a.)</text>
<text x="364" y="13.7" class="pl">b.)</text>
</svg>
</body></html>
